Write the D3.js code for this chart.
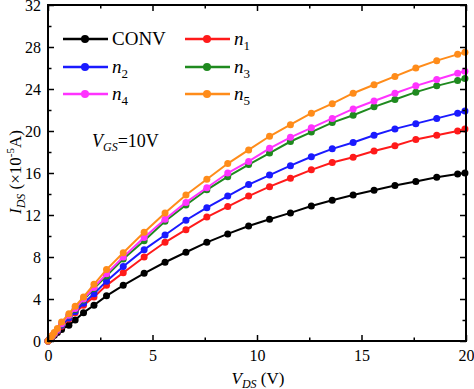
<!DOCTYPE html>
<html>
<head>
<meta charset="utf-8">
<script src="https://cdn.jsdelivr.net/npm/d3@7"></script>
<style>
  body { margin: 0; background: #fff; }
  text { font-family: "Liberation Serif", "Times New Roman", serif; }
</style>
</head>
<body>
<svg id="chart" width="474" height="389"></svg>
<script>
// drain voltage samples (V)
var vds = [0, 0.1, 0.2, 0.3, 0.45, 0.65, 1.0, 1.3, 1.7, 2.2, 2.8, 3.6, 4.6, 5.6, 6.6, 7.6, 8.6,
           9.6, 10.6, 11.6, 12.6, 13.6, 14.6, 15.6, 16.6, 17.6, 18.6, 19.6, 19.95];

// drain current, x1e-5 A
var conv = [0, 0.2, 0.4, 0.55, 0.8, 1.1, 1.5, 2.0, 2.7, 3.4, 4.3, 5.3, 6.45, 7.5, 8.45, 9.4, 10.2,
            10.95, 11.6, 12.2, 12.85, 13.4, 13.9, 14.35, 14.8, 15.2, 15.6, 15.9, 16.0];
var n1 = [0, 0.22, 0.43, 0.64, 0.95, 1.4, 2.1, 2.7, 3.4, 4.2, 5.3, 6.5, 8.0, 9.4, 10.6, 11.8, 12.8,
          13.8, 14.7, 15.5, 16.3, 17.0, 17.5, 18.1, 18.6, 19.2, 19.6, 20.0, 20.2];
var n2 = [0, 0.23, 0.45, 0.68, 1.0, 1.5, 2.2, 2.8, 3.6, 4.5, 5.7, 7.1, 8.7, 10.1, 11.5, 12.7, 13.8,
          14.9, 15.8, 16.7, 17.55, 18.3, 18.9, 19.6, 20.2, 20.7, 21.2, 21.7, 21.9];
var n3 = [0, 0.24, 0.48, 0.72, 1.07, 1.6, 2.4, 3.0, 3.9, 5.0, 6.2, 7.8, 9.55, 11.4, 12.95, 14.4, 15.65,
          16.8, 17.9, 19.0, 19.9, 20.8, 21.5, 22.3, 23.0, 23.7, 24.3, 24.8, 25.0];
var n4 = [0, 0.25, 0.5, 0.75, 1.1, 1.65, 2.45, 3.1, 4.0, 5.1, 6.4, 8.0, 9.85, 11.6, 13.2, 14.6, 16.0,
          17.1, 18.35, 19.4, 20.3, 21.2, 22.1, 22.86, 23.6, 24.3, 24.9, 25.5, 25.7];
var n5 = [0, 0.27, 0.53, 0.8, 1.2, 1.8, 2.6, 3.3, 4.2, 5.4, 6.8, 8.4, 10.35, 12.2, 13.9, 15.4, 16.9,
          18.2, 19.5, 20.6, 21.7, 22.6, 23.6, 24.4, 25.2, 26.0, 26.7, 27.3, 27.5];

var seriesNames = ["CONV", "n1", "n2", "n3", "n4", "n5"];
var seriesColors = ["#000000", "#ff1a1a", "#1a1aff", "#1f8a1f", "#ff33ff", "#ff8c1a"];
var seriesVals = [conv, n1, n2, n3, n4, n5];

var xTicks = [0, 5, 10, 15, 20];
var yTicks = [0, 4, 8, 12, 16, 20, 24, 28, 32];

var svg = d3.select("#chart");
// plot box (avoid the global name "top")
var pL = 48, pR = 466, pT = 5, pB = 341;

var x = d3.scaleLinear().domain([0, 20]).range([pL, pR]);
var y = d3.scaleLinear().domain([0, 32]).range([pB, pT]);

// series lines + markers
seriesVals.forEach(function (vals, i) {
    var pts = vds.map(function (v, j) { return [v, vals[j]]; });
    var g = svg.append("g");
    g.append("path")
        .datum(pts)
        .attr("fill", "none")
        .attr("stroke", seriesColors[i])
        .attr("stroke-width", 2)
        .attr("d", d3.line().x(d => x(d[0])).y(d => y(d[1])));
    g.selectAll("circle")
        .data(pts)
        .enter()
        .append("circle")
        .attr("cx", d => x(d[0]))
        .attr("cy", d => y(d[1]))
        .attr("r", 3.5)
        .attr("fill", seriesColors[i]);
});

// axes: ticks point inward, mirrored on top/right
function axisSet(gen, tr) {
    return svg.append("g").attr("transform", tr).call(gen);
}
var xMinor = [2.5, 7.5, 12.5, 17.5];
var yMinor = d3.range(2, 32, 4);
axisSet(d3.axisBottom(x).tickValues(xTicks).tickSize(-6).tickPadding(9).tickFormat(d3.format("d")), "translate(0," + pB + ")");
axisSet(d3.axisBottom(x).tickValues(xMinor).tickSize(-3.5).tickFormat(""), "translate(0," + pB + ")");
axisSet(d3.axisTop(x).tickValues(xTicks).tickSize(-6).tickFormat(""), "translate(0," + pT + ")");
axisSet(d3.axisTop(x).tickValues(xMinor).tickSize(-3.5).tickFormat(""), "translate(0," + pT + ")");
axisSet(d3.axisLeft(y).tickValues(yTicks).tickSize(-6).tickPadding(7).tickFormat(d3.format("d")), "translate(" + pL + ",0)");
axisSet(d3.axisLeft(y).tickValues(yMinor).tickSize(-3.5).tickFormat(""), "translate(" + pL + ",0)");
axisSet(d3.axisRight(y).tickValues(yTicks).tickSize(-6).tickFormat(""), "translate(" + pR + ",0)");
axisSet(d3.axisRight(y).tickValues(yMinor).tickSize(-3.5).tickFormat(""), "translate(" + pR + ",0)");

svg.selectAll(".domain").remove();
svg.selectAll(".tick line").attr("stroke", "#000").attr("stroke-width", 1.5);
svg.selectAll(".tick text").attr("font-size", 16).attr("fill", "#000")
    .style("font-family", "Liberation Serif");

svg.append("rect")
    .attr("x", pL).attr("y", pT)
    .attr("width", pR - pL).attr("height", pB - pT)
    .attr("fill", "none").attr("stroke", "#000").attr("stroke-width", 2);

// legend
var legendPos = [[63, 39], [185, 39], [63, 67], [185, 67], [63, 94], [185, 94]];
seriesNames.forEach(function (name, i) {
    var p = legendPos[i];
    var lg = svg.append("g").attr("transform", "translate(" + p[0] + "," + p[1] + ")");
    lg.append("line").attr("x1", 0).attr("x2", 45).attr("y1", 0).attr("y2", 0)
        .attr("stroke", seriesColors[i]).attr("stroke-width", 2.5);
    lg.append("circle").attr("cx", 22).attr("cy", 0).attr("r", 4).attr("fill", seriesColors[i]);
    var t = lg.append("text").attr("x", 49).attr("y", 6).attr("font-size", 19).attr("fill", "#000");
    if (name === "CONV") {
        t.text("CONV");
    } else {
        t.append("tspan").attr("font-style", "italic").text("n");
        t.append("tspan").attr("font-size", 13).attr("dy", 5).text(name.slice(1));
    }
});

// annotation V_GS = 10V
var ann = svg.append("text").attr("x", 92).attr("y", 147).attr("font-size", 18).attr("fill", "#000");
ann.append("tspan").attr("font-style", "italic").text("V");
ann.append("tspan").attr("font-style", "italic").attr("font-size", 12).attr("dy", 4).text("GS");
ann.append("tspan").attr("dy", -4).text("=10V");

// x axis title
var xtitle = svg.append("text").attr("x", 258).attr("y", 384).attr("text-anchor", "middle")
    .attr("font-size", 17).attr("fill", "#000");
xtitle.append("tspan").attr("font-style", "italic").text("V");
xtitle.append("tspan").attr("font-style", "italic").attr("font-size", 12).attr("dy", 4).text("DS");
xtitle.append("tspan").attr("dy", -4).text(" (V)");

// y axis title
var ytitle = svg.append("text").attr("transform", "translate(21,172) rotate(-90)")
    .attr("text-anchor", "middle").attr("font-size", 17).attr("fill", "#000");
ytitle.append("tspan").attr("font-style", "italic").text("I");
ytitle.append("tspan").attr("font-style", "italic").attr("font-size", 12).attr("dy", 4).text("DS");
ytitle.append("tspan").attr("dy", -4).text(" (\u00d710");
ytitle.append("tspan").attr("font-size", 11).attr("dy", -7).text("-5");
ytitle.append("tspan").attr("dy", 7).text("A)");
</script>
</body>
</html>
